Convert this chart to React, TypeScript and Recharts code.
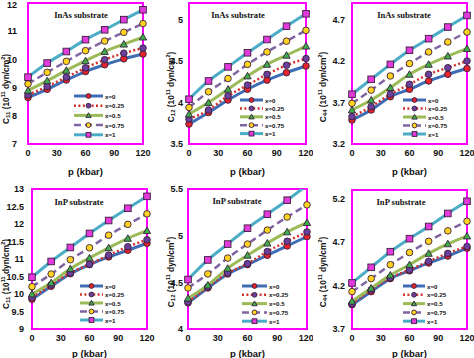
import React from 'react';
import { LineChart, Line, XAxis, YAxis, ReferenceArea } from 'recharts';

// pressure grid (kbar) and composition labels
const pressure = [0, 20, 40, 60, 80, 100, 120];
const pressureTicks = [0, 30, 60, 90, 120];
const compositions = ['x=0', 'x=0.25', 'x=0.5', 'x=0.75', 'x=1'];

// elastic constants (10^11 dyn/cm^2), one row per composition x = 0, 0.25, 0.5, 0.75, 1
const inasC11 = [
  [8.65, 8.94, 9.27, 9.57, 9.81, 10.02, 10.19],
  [8.74, 9.04, 9.37, 9.7, 9.99, 10.22, 10.4],
  [8.9, 9.24, 9.61, 9.95, 10.28, 10.54, 10.79],
  [9.13, 9.54, 9.93, 10.31, 10.65, 10.96, 11.27],
  [9.37, 9.87, 10.28, 10.7, 11.05, 11.41, 11.76],
];
const inasC12 = [
  [3.74, 3.88, 4.03, 4.16, 4.27, 4.36, 4.44],
  [3.8, 3.91, 4.08, 4.21, 4.34, 4.45, 4.53],
  [3.86, 4.0, 4.16, 4.32, 4.46, 4.57, 4.68],
  [3.94, 4.13, 4.29, 4.46, 4.61, 4.74, 4.87],
  [4.04, 4.26, 4.43, 4.6, 4.76, 4.92, 5.07],
];
const inasC44 = [
  [3.49, 3.61, 3.77, 3.86, 3.96, 4.04, 4.11],
  [3.53, 3.65, 3.8, 3.92, 4.04, 4.12, 4.2],
  [3.61, 3.73, 3.88, 4.04, 4.16, 4.26, 4.35],
  [3.69, 3.85, 4.02, 4.17, 4.31, 4.43, 4.55],
  [3.8, 3.98, 4.16, 4.33, 4.47, 4.61, 4.75],
];
const inpC11 = [
  [9.85, 10.22, 10.58, 10.84, 11.06, 11.25, 11.45],
  [9.9, 10.26, 10.6, 10.85, 11.11, 11.35, 11.55],
  [10.0, 10.32, 10.72, 11.03, 11.32, 11.59, 11.81],
  [10.21, 10.57, 10.98, 11.32, 11.68, 11.99, 12.29],
  [10.48, 10.93, 11.33, 11.73, 12.1, 12.45, 12.79],
];
const inpC12 = [
  [4.28, 4.44, 4.59, 4.69, 4.79, 4.89, 4.99],
  [4.29, 4.45, 4.6, 4.7, 4.83, 4.94, 5.04],
  [4.33, 4.47, 4.65, 4.79, 4.92, 5.04, 5.14],
  [4.44, 4.59, 4.76, 4.91, 5.06, 5.2, 5.33],
  [4.53, 4.74, 4.91, 5.08, 5.23, 5.38, 5.54],
];
const inpC44 = [
  [3.98, 4.13, 4.28, 4.37, 4.46, 4.54, 4.63],
  [3.99, 4.15, 4.29, 4.38, 4.48, 4.57, 4.65],
  [4.02, 4.17, 4.32, 4.44, 4.57, 4.68, 4.77],
  [4.13, 4.28, 4.44, 4.58, 4.71, 4.83, 4.94],
  [4.23, 4.41, 4.59, 4.74, 4.88, 5.03, 5.17],
];

const FRAME = '#FF00FF';
const TICK_FONT = '"Liberation Sans", Arial, sans-serif';

const SERIES = [
  { stroke: '#3E6DB5', width: 3, dash: undefined, marker: 'circle', fill: '#E5252B' },
  { stroke: '#D0312D', width: 2.5, dash: '2 2.4', marker: 'circle', fill: '#6B3F9C' },
  { stroke: '#9BBB59', width: 3, dash: undefined, marker: 'triangle', fill: '#3DAE4A' },
  { stroke: '#8064A2', width: 2.5, dash: '7 4', marker: 'circle', fill: '#FFD31F' },
  { stroke: '#4BACC6', width: 3, dash: undefined, marker: 'square', fill: '#E23ADB' },
];

const Marker = ({ cx, cy, kind, fill, size = 3.3 }: any) => {
  if (cx == null || cy == null) return null;
  const common = { fill, stroke: '#3A1E3E', strokeWidth: 0.9 };
  if (kind === 'square') {
    return <rect x={cx - size} y={cy - size} width={size * 2} height={size * 2} {...common} />;
  }
  if (kind === 'triangle') {
    const s = size * 1.1;
    return <polygon points={`${cx},${cy - s} ${cx - s},${cy + s * 0.8} ${cx + s},${cy + s * 0.8}`} {...common} />;
  }
  return <circle cx={cx} cy={cy} r={size} {...common} />;
};

type Panel = {
  rows: number[][];
  domain: [number, number];
  ticks: number[];
  overflow?: boolean;
  box: { left: number; top: number; width: number; height: number };
  yWidth: number;
  yGap: number;
  marginTop: number;
  marginRight: number;
  xHeight: number;
  xLabelOffset: number;
  symbol: string;
  substrate: string;
  titleX: number;
  titleY: number;
  yLabelX: number;
  yLabelY: number;
  legend: { x: number; y: number; step: number; len: number };
};

const PANELS: Panel[] = [
  {
    rows: inasC11, domain: [7, 12], ticks: [7, 8, 9, 10, 11, 12],
    box: { left: 0, top: 0, width: 155, height: 179 }, yWidth: 28, yGap: 11, marginTop: 3, marginRight: 12,
    xHeight: 35, xLabelOffset: 4, symbol: '11', substrate: 'InAs substrate', titleX: 81, titleY: 15,
    yLabelX: 5.5, yLabelY: 89, legend: { x: 74, y: 96, step: 9.7, len: 29 },
  },
  {
    rows: inasC12, domain: [3.5, 5.2], ticks: [3.5, 4, 4.5, 5],
    box: { left: 155, top: 0, width: 158, height: 179 }, yWidth: 34, yGap: 6, marginTop: 3, marginRight: 7,
    xHeight: 35, xLabelOffset: 4, symbol: '12', substrate: 'InAs substrate', titleX: 238, titleY: 15,
    yLabelX: 171, yLabelY: 87, legend: { x: 240, y: 100, step: 8.4, len: 23 },
  },
  {
    rows: inasC44, domain: [3.2, 4.9], ticks: [3.2, 3.7, 4.2, 4.7],
    box: { left: 313, top: 0, width: 161, height: 179 }, yWidth: 39, yGap: 7, marginTop: 3, marginRight: 7,
    xHeight: 35, xLabelOffset: 4, symbol: '44', substrate: 'InAs substrate', titleX: 404, titleY: 15,
    yLabelX: 323, yLabelY: 87, legend: { x: 403, y: 100, step: 8.5, len: 23 },
  },
  {
    rows: inpC11, domain: [9, 13], ticks: [9, 9.5, 10, 10.5, 11, 11.5, 12, 12.5, 13],
    box: { left: 0, top: 179, width: 155, height: 179 }, yWidth: 32, yGap: 8, marginTop: 10, marginRight: 8,
    xHeight: 29, xLabelOffset: 1.5, symbol: '11', substrate: 'InP substrate', titleX: 79, titleY: 202,
    yLabelX: 5.5, yLabelY: 274, legend: { x: 80, y: 286, step: 8.5, len: 23 },
  },
  {
    rows: inpC12, domain: [4, 5.5], ticks: [4, 4.5, 5, 5.5], overflow: true,
    box: { left: 155, top: 179, width: 158, height: 179 }, yWidth: 33, yGap: 5, marginTop: 10, marginRight: 6,
    xHeight: 29, xLabelOffset: 1.5, symbol: '12', substrate: 'InP substrate', titleX: 237, titleY: 201,
    yLabelX: 171, yLabelY: 272, legend: { x: 242, y: 286, step: 8.8, len: 25 },
  },
  {
    rows: inpC44, domain: [3.7, 5.3], ticks: [3.7, 4.2, 4.7, 5.2],
    box: { left: 313, top: 179, width: 161, height: 179 }, yWidth: 39, yGap: 7, marginTop: 11, marginRight: 7,
    xHeight: 29, xLabelOffset: 1.5, symbol: '44', substrate: 'InP substrate', titleX: 401, titleY: 202,
    yLabelX: 323, yLabelY: 272, legend: { x: 403, y: 286, step: 8.8, len: 22 },
  },
];

const toTable = (rows: number[][]) =>
  pressure.map((p, i) => {
    const row: Record<string, number> = { p };
    rows.forEach((vals, s) => {
      row[`s${s}`] = vals[i];
    });
    return row;
  });

const PanelChart = ({ panel }: { panel: Panel }) => {
  const { box } = panel;
  return (
    <div style={{ position: 'absolute', left: box.left, top: box.top }}>
      <LineChart
        width={box.width}
        height={box.height}
        data={toTable(panel.rows)}
        margin={{ top: panel.marginTop, right: panel.marginRight, bottom: 0, left: 0 }}
      >
        <XAxis
          dataKey="p"
          type="number"
          domain={[0, 120]}
          ticks={pressureTicks}
          axisLine={false}
          tickLine={false}
          tickSize={4}
          tickMargin={2}
          height={panel.xHeight}
          tick={{ fontSize: 9, fontWeight: 700, fill: '#111', fontFamily: TICK_FONT }}
          label={{
            value: 'p (kbar)',
            position: 'insideBottom',
            offset: panel.xLabelOffset,
            style: { fontSize: 9.5, fontWeight: 700, fill: '#111', fontFamily: TICK_FONT },
          }}
        />
        <YAxis
          type="number"
          domain={panel.domain}
          ticks={panel.ticks}
          allowDataOverflow={!!panel.overflow}
          axisLine={false}
          tickLine={false}
          tickSize={0}
          tickMargin={panel.yGap}
          width={panel.yWidth}
          tick={{ fontSize: 9, fontWeight: 700, fill: '#111', fontFamily: TICK_FONT }}
        />
        <ReferenceArea
          x1={0}
          x2={120}
          y1={panel.domain[0]}
          y2={panel.domain[1]}
          fill="none"
          stroke={FRAME}
          strokeWidth={2}
          ifOverflow="visible"
        />
        {SERIES.map((s, i) => (
          <Line
            key={i}
            type="monotone"
            dataKey={`s${i}`}
            name={compositions[i]}
            stroke={s.stroke}
            strokeWidth={s.width}
            strokeDasharray={s.dash}
            dot={(props: any) => <Marker key={props.index} cx={props.cx} cy={props.cy} kind={s.marker} fill={s.fill} />}
            activeDot={false}
            isAnimationActive={false}
          />
        ))}
      </LineChart>
    </div>
  );
};

// titles, rotated y-axis labels and the in-plot legends
const Overlay = () => (
  <svg width={474} height={358} style={{ position: 'absolute', left: 0, top: 0, pointerEvents: 'none' }}>
    {PANELS.map((panel, pi) => (
      <g key={pi}>
        <text
          x={panel.titleX}
          y={panel.titleY}
          textAnchor="middle"
          dominantBaseline="central"
          fontFamily='"Liberation Serif", "Times New Roman", serif'
          fontWeight={700}
          fontSize={8.6}
          fill="#111"
        >
          {panel.substrate}
        </text>
        <text
          transform={`translate(${panel.yLabelX},${panel.yLabelY}) rotate(-90)`}
          textAnchor="middle"
          dominantBaseline="central"
          fontFamily={TICK_FONT}
          fontWeight={700}
          fontSize={8.4}
          fill="#111"
        >
          C<tspan fontSize={6} dy={2.2}>{panel.symbol}</tspan>
          <tspan dy={-2.2}> (10</tspan>
          <tspan fontSize={5.5} dy={-3}>11</tspan>
          <tspan dy={3}> dyn/cm</tspan>
          <tspan fontSize={5.5} dy={-3}>2</tspan>
          <tspan dy={3}>)</tspan>
        </text>
        {SERIES.map((s, i) => {
          const { x, y, step, len } = panel.legend;
          const yy = y + i * step;
          return (
            <g key={i}>
              <line
                x1={x}
                x2={x + len}
                y1={yy}
                y2={yy}
                stroke={s.stroke}
                strokeWidth={s.width}
                strokeDasharray={s.dash}
              />
              <Marker cx={x + len / 2} cy={yy} kind={s.marker} fill={s.fill} size={2.4} />
              <text
                x={x + len + 2}
                y={yy}
                dominantBaseline="central"
                fontFamily={TICK_FONT}
                fontWeight={700}
                fontSize={6.2}
                fill="#111"
              >
                {compositions[i]}
              </text>
            </g>
          );
        })}
      </g>
    ))}
  </svg>
);

export default function App() {
  return (
    <div style={{ position: 'absolute', left: 0, top: 0, width: 474, height: 358, background: '#fff', overflow: 'hidden' }}>
      {PANELS.map((panel, i) => (
        <PanelChart key={i} panel={panel} />
      ))}
      <Overlay />
    </div>
  );
}
